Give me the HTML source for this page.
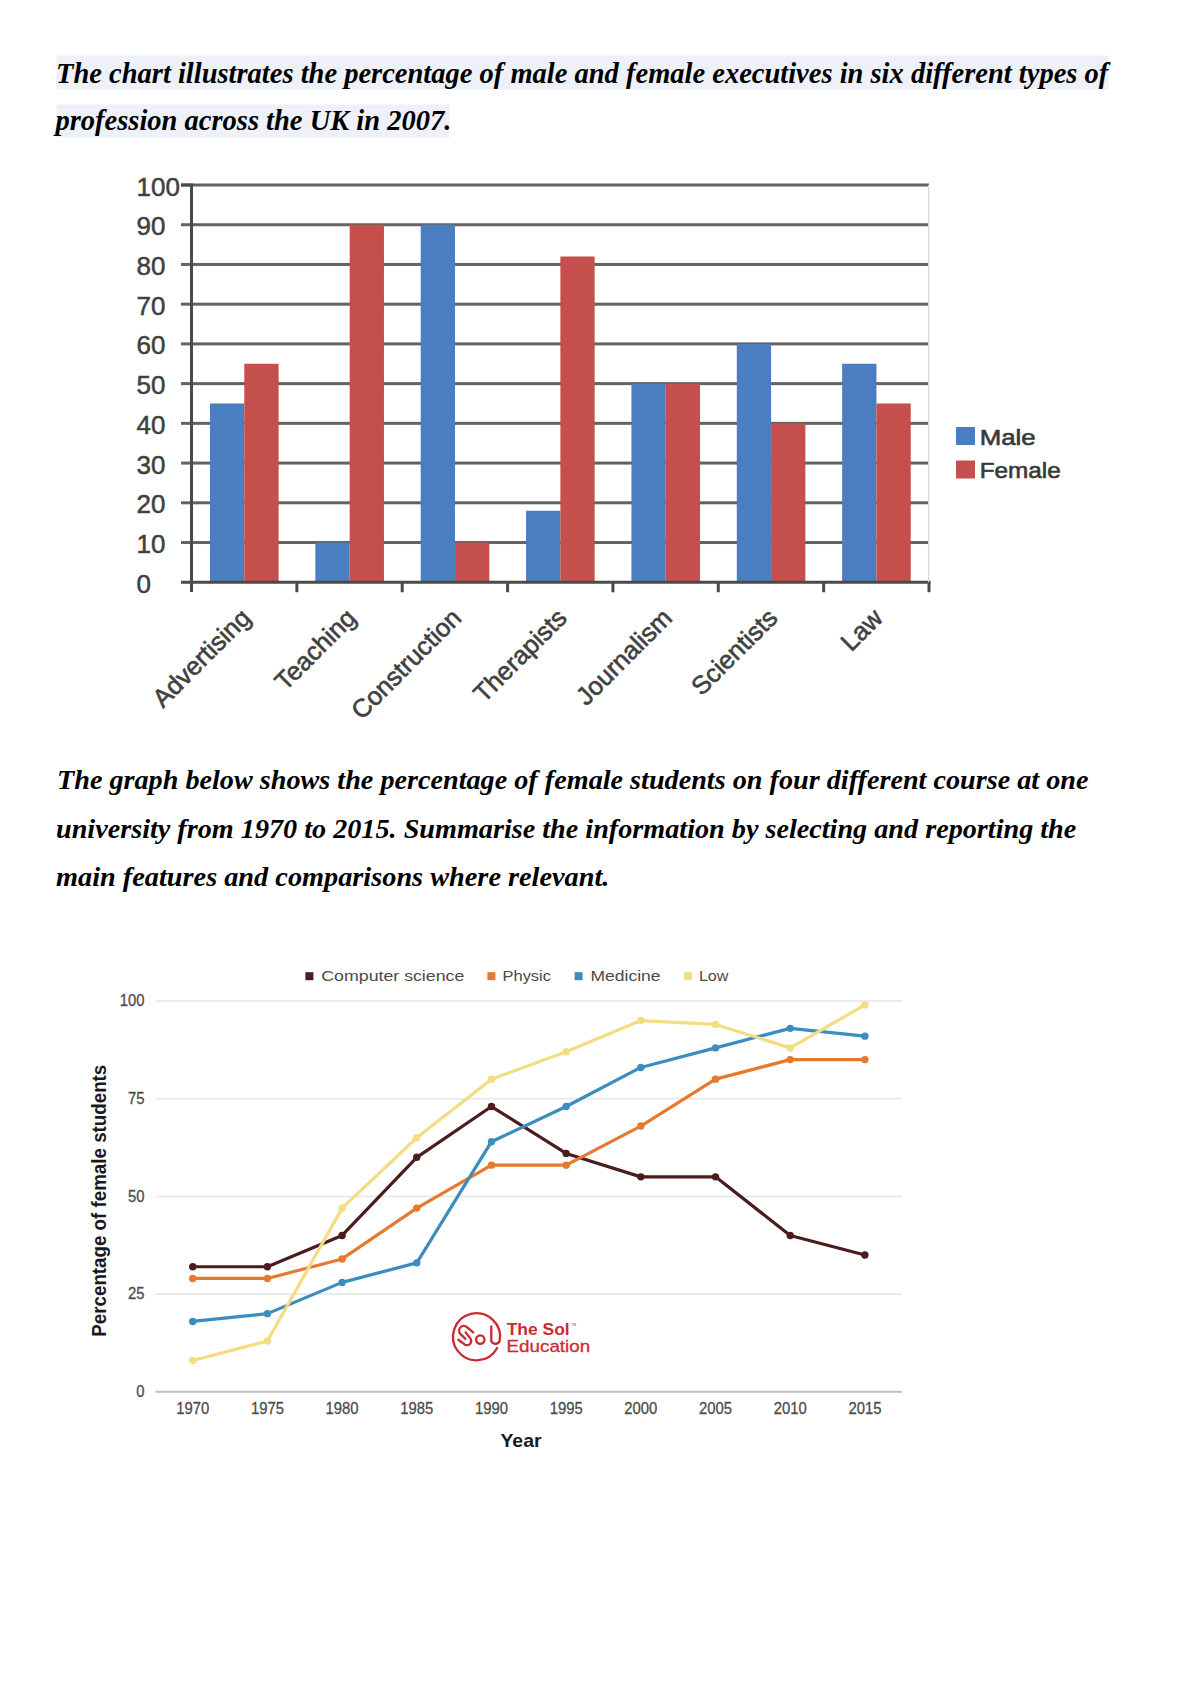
<!DOCTYPE html>
<html><head><meta charset="utf-8"><style>
html,body{margin:0;padding:0;background:#fff;}
body{width:1200px;height:1696px;overflow:hidden;position:relative;font-family:"Liberation Sans", sans-serif;}
svg{position:absolute;left:0;top:0;}
</style></head><body>
<svg width="1200" height="1696" viewBox="0 0 1200 1696">
<rect x="56.5" y="55.5" width="1052" height="34" fill="#eef2f8"/>
<rect x="56.5" y="104.5" width="393" height="33" fill="#eef2f8"/>
<text x="56" y="82.5" font-family='"Liberation Serif"' font-style="italic" font-weight="bold" font-size="28.5" fill="#000">The chart illustrates the percentage of male and female executives in six different types of</text>
<text x="55.5" y="130.3" font-family='"Liberation Serif"' font-style="italic" font-weight="bold" font-size="28.5" fill="#000">profession across the UK in 2007.</text>
<text x="57" y="789" font-family='"Liberation Serif"' font-style="italic" font-weight="bold" font-size="28.2" fill="#000">The graph below shows the percentage of female students on four different course at one</text>
<text x="56" y="838" font-family='"Liberation Serif"' font-style="italic" font-weight="bold" font-size="28.2" fill="#000">university from 1970 to 2015. Summarise the information by selecting and reporting the</text>
<text x="56" y="886" font-family='"Liberation Serif"' font-style="italic" font-weight="bold" font-size="28.3" fill="#000">main features and comparisons where relevant.</text>
<rect x="181" y="541.02" width="748" height="3" fill="#636363"/>
<rect x="181" y="501.30" width="748" height="3" fill="#636363"/>
<rect x="181" y="461.57" width="748" height="3" fill="#636363"/>
<rect x="181" y="421.85" width="748" height="3" fill="#636363"/>
<rect x="181" y="382.12" width="748" height="3" fill="#636363"/>
<rect x="181" y="342.40" width="748" height="3" fill="#636363"/>
<rect x="181" y="302.68" width="748" height="3" fill="#636363"/>
<rect x="181" y="262.95" width="748" height="3" fill="#636363"/>
<rect x="181" y="223.23" width="748" height="3" fill="#636363"/>
<rect x="181" y="183.50" width="748" height="3" fill="#636363"/>
<rect x="210.00" y="403.49" width="34.3" height="178.76" fill="#4a7ec0"/>
<rect x="244.30" y="363.76" width="34.3" height="218.49" fill="#c54f4c"/>
<rect x="315.36" y="542.52" width="34.3" height="39.73" fill="#4a7ec0"/>
<rect x="349.66" y="224.73" width="34.3" height="357.52" fill="#c54f4c"/>
<rect x="420.71" y="224.73" width="34.3" height="357.52" fill="#4a7ec0"/>
<rect x="455.01" y="542.52" width="34.3" height="39.73" fill="#c54f4c"/>
<rect x="526.07" y="510.75" width="34.3" height="71.50" fill="#4a7ec0"/>
<rect x="560.37" y="256.50" width="34.3" height="325.75" fill="#c54f4c"/>
<rect x="631.43" y="383.62" width="34.3" height="198.62" fill="#4a7ec0"/>
<rect x="665.73" y="383.62" width="34.3" height="198.62" fill="#c54f4c"/>
<rect x="736.79" y="343.90" width="34.3" height="238.35" fill="#4a7ec0"/>
<rect x="771.09" y="423.35" width="34.3" height="158.90" fill="#c54f4c"/>
<rect x="842.14" y="363.76" width="34.3" height="218.49" fill="#4a7ec0"/>
<rect x="876.44" y="403.49" width="34.3" height="178.76" fill="#c54f4c"/>
<rect x="181" y="580.75" width="749.5" height="3" fill="#4a4a4a"/>
<rect x="190" y="183.50" width="3" height="408.50" fill="#4a4a4a"/>
<rect x="181" y="183.50" width="10" height="3" fill="#4a4a4a"/>
<rect x="295.36" y="582.25" width="3" height="10" fill="#4a4a4a"/>
<rect x="400.71" y="582.25" width="3" height="10" fill="#4a4a4a"/>
<rect x="506.07" y="582.25" width="3" height="10" fill="#4a4a4a"/>
<rect x="611.43" y="582.25" width="3" height="10" fill="#4a4a4a"/>
<rect x="716.79" y="582.25" width="3" height="10" fill="#4a4a4a"/>
<rect x="822.14" y="582.25" width="3" height="10" fill="#4a4a4a"/>
<rect x="927.50" y="582.25" width="3" height="10" fill="#4a4a4a"/>
<rect x="928" y="185.00" width="1.2" height="397.25" fill="#d8d8d8"/>
<text x="136.5" y="592.75" font-family='"Liberation Sans"' font-size="26" fill="#404040" stroke="#404040" stroke-width="0.5">0</text>
<text x="136.5" y="553.02" font-family='"Liberation Sans"' font-size="26" fill="#404040" stroke="#404040" stroke-width="0.5">10</text>
<text x="136.5" y="513.30" font-family='"Liberation Sans"' font-size="26" fill="#404040" stroke="#404040" stroke-width="0.5">20</text>
<text x="136.5" y="473.57" font-family='"Liberation Sans"' font-size="26" fill="#404040" stroke="#404040" stroke-width="0.5">30</text>
<text x="136.5" y="433.85" font-family='"Liberation Sans"' font-size="26" fill="#404040" stroke="#404040" stroke-width="0.5">40</text>
<text x="136.5" y="394.12" font-family='"Liberation Sans"' font-size="26" fill="#404040" stroke="#404040" stroke-width="0.5">50</text>
<text x="136.5" y="354.40" font-family='"Liberation Sans"' font-size="26" fill="#404040" stroke="#404040" stroke-width="0.5">60</text>
<text x="136.5" y="314.68" font-family='"Liberation Sans"' font-size="26" fill="#404040" stroke="#404040" stroke-width="0.5">70</text>
<text x="136.5" y="274.95" font-family='"Liberation Sans"' font-size="26" fill="#404040" stroke="#404040" stroke-width="0.5">80</text>
<text x="136.5" y="235.23" font-family='"Liberation Sans"' font-size="26" fill="#404040" stroke="#404040" stroke-width="0.5">90</text>
<text x="136.5" y="195.50" font-family='"Liberation Sans"' font-size="26" fill="#404040" stroke="#404040" stroke-width="0.5">100</text>
<text transform="translate(252.18,619.5) rotate(-45)" text-anchor="end" font-family='"Liberation Sans"' font-size="25.5" fill="#404040" stroke="#404040" stroke-width="0.6">Advertising</text>
<text transform="translate(357.54,619.5) rotate(-45)" text-anchor="end" font-family='"Liberation Sans"' font-size="25.5" fill="#404040" stroke="#404040" stroke-width="0.6">Teaching</text>
<text transform="translate(462.89,619.5) rotate(-45)" text-anchor="end" font-family='"Liberation Sans"' font-size="25.5" fill="#404040" stroke="#404040" stroke-width="0.6">Construction</text>
<text transform="translate(568.25,619.5) rotate(-45)" text-anchor="end" font-family='"Liberation Sans"' font-size="25.5" fill="#404040" stroke="#404040" stroke-width="0.6">Therapists</text>
<text transform="translate(673.61,619.5) rotate(-45)" text-anchor="end" font-family='"Liberation Sans"' font-size="25.5" fill="#404040" stroke="#404040" stroke-width="0.6">Journalism</text>
<text transform="translate(778.96,619.5) rotate(-45)" text-anchor="end" font-family='"Liberation Sans"' font-size="25.5" fill="#404040" stroke="#404040" stroke-width="0.6">Scientists</text>
<text transform="translate(884.32,619.5) rotate(-45)" text-anchor="end" font-family='"Liberation Sans"' font-size="25.5" fill="#404040" stroke="#404040" stroke-width="0.6">Law</text>
<rect x="956" y="427" width="19" height="18" fill="#4a7ec0"/>
<rect x="956" y="460.5" width="19" height="18" fill="#c54f4c"/>
<text x="979.7" y="445" textLength="56" lengthAdjust="spacingAndGlyphs" font-family='"Liberation Sans"' font-size="22.5" fill="#383838" stroke="#383838" stroke-width="0.6">Male</text>
<text x="979.7" y="478.3" textLength="81" lengthAdjust="spacingAndGlyphs" font-family='"Liberation Sans"' font-size="22.5" fill="#383838" stroke="#383838" stroke-width="0.6">Female</text>
<rect x="155.5" y="1293.20" width="746.5" height="1.8" fill="#e9e9e9"/>
<rect x="155.5" y="1195.50" width="746.5" height="1.8" fill="#e9e9e9"/>
<rect x="155.5" y="1097.80" width="746.5" height="1.8" fill="#e9e9e9"/>
<rect x="155.5" y="1000.10" width="746.5" height="1.8" fill="#e9e9e9"/>
<rect x="155.5" y="1390.80" width="746.5" height="2" fill="#bdbdbd"/>
<text x="144.5" y="1397.10" text-anchor="end" textLength="8.25" lengthAdjust="spacingAndGlyphs" font-family='"Liberation Sans"' font-size="17" fill="#4c4c4c" stroke="#4c4c4c" stroke-width="0.3">0</text>
<text x="144.5" y="1299.40" text-anchor="end" textLength="16.5" lengthAdjust="spacingAndGlyphs" font-family='"Liberation Sans"' font-size="17" fill="#4c4c4c" stroke="#4c4c4c" stroke-width="0.3">25</text>
<text x="144.5" y="1201.70" text-anchor="end" textLength="16.5" lengthAdjust="spacingAndGlyphs" font-family='"Liberation Sans"' font-size="17" fill="#4c4c4c" stroke="#4c4c4c" stroke-width="0.3">50</text>
<text x="144.5" y="1104.00" text-anchor="end" textLength="16.5" lengthAdjust="spacingAndGlyphs" font-family='"Liberation Sans"' font-size="17" fill="#4c4c4c" stroke="#4c4c4c" stroke-width="0.3">75</text>
<text x="144.5" y="1006.30" text-anchor="end" textLength="24.75" lengthAdjust="spacingAndGlyphs" font-family='"Liberation Sans"' font-size="17" fill="#4c4c4c" stroke="#4c4c4c" stroke-width="0.3">100</text>
<text x="176.25" y="1414" textLength="33" lengthAdjust="spacingAndGlyphs" font-family='"Liberation Sans"' font-size="17" fill="#4c4c4c" stroke="#4c4c4c" stroke-width="0.3">1970</text>
<text x="250.93" y="1414" textLength="33" lengthAdjust="spacingAndGlyphs" font-family='"Liberation Sans"' font-size="17" fill="#4c4c4c" stroke="#4c4c4c" stroke-width="0.3">1975</text>
<text x="325.62" y="1414" textLength="33" lengthAdjust="spacingAndGlyphs" font-family='"Liberation Sans"' font-size="17" fill="#4c4c4c" stroke="#4c4c4c" stroke-width="0.3">1980</text>
<text x="400.30" y="1414" textLength="33" lengthAdjust="spacingAndGlyphs" font-family='"Liberation Sans"' font-size="17" fill="#4c4c4c" stroke="#4c4c4c" stroke-width="0.3">1985</text>
<text x="474.98" y="1414" textLength="33" lengthAdjust="spacingAndGlyphs" font-family='"Liberation Sans"' font-size="17" fill="#4c4c4c" stroke="#4c4c4c" stroke-width="0.3">1990</text>
<text x="549.67" y="1414" textLength="33" lengthAdjust="spacingAndGlyphs" font-family='"Liberation Sans"' font-size="17" fill="#4c4c4c" stroke="#4c4c4c" stroke-width="0.3">1995</text>
<text x="624.35" y="1414" textLength="33" lengthAdjust="spacingAndGlyphs" font-family='"Liberation Sans"' font-size="17" fill="#4c4c4c" stroke="#4c4c4c" stroke-width="0.3">2000</text>
<text x="699.03" y="1414" textLength="33" lengthAdjust="spacingAndGlyphs" font-family='"Liberation Sans"' font-size="17" fill="#4c4c4c" stroke="#4c4c4c" stroke-width="0.3">2005</text>
<text x="773.72" y="1414" textLength="33" lengthAdjust="spacingAndGlyphs" font-family='"Liberation Sans"' font-size="17" fill="#4c4c4c" stroke="#4c4c4c" stroke-width="0.3">2010</text>
<text x="848.40" y="1414" textLength="33" lengthAdjust="spacingAndGlyphs" font-family='"Liberation Sans"' font-size="17" fill="#4c4c4c" stroke="#4c4c4c" stroke-width="0.3">2015</text>
<polyline points="192.75,1266.74 267.43,1266.74 342.12,1235.48 416.80,1157.32 491.48,1106.52 566.17,1153.41 640.85,1176.86 715.53,1176.86 790.22,1235.48 864.90,1255.02" fill="none" stroke="#4a1c1d" stroke-width="3.2" stroke-linejoin="round"/>
<circle cx="192.75" cy="1266.74" r="3.7" fill="#4a1c1d"/>
<circle cx="267.43" cy="1266.74" r="3.7" fill="#4a1c1d"/>
<circle cx="342.12" cy="1235.48" r="3.7" fill="#4a1c1d"/>
<circle cx="416.80" cy="1157.32" r="3.7" fill="#4a1c1d"/>
<circle cx="491.48" cy="1106.52" r="3.7" fill="#4a1c1d"/>
<circle cx="566.17" cy="1153.41" r="3.7" fill="#4a1c1d"/>
<circle cx="640.85" cy="1176.86" r="3.7" fill="#4a1c1d"/>
<circle cx="715.53" cy="1176.86" r="3.7" fill="#4a1c1d"/>
<circle cx="790.22" cy="1235.48" r="3.7" fill="#4a1c1d"/>
<circle cx="864.90" cy="1255.02" r="3.7" fill="#4a1c1d"/>
<polyline points="192.75,1278.47 267.43,1278.47 342.12,1258.93 416.80,1208.12 491.48,1165.14 566.17,1165.14 640.85,1126.06 715.53,1079.16 790.22,1059.62 864.90,1059.62" fill="none" stroke="#e67930" stroke-width="3.2" stroke-linejoin="round"/>
<circle cx="192.75" cy="1278.47" r="3.7" fill="#e67930"/>
<circle cx="267.43" cy="1278.47" r="3.7" fill="#e67930"/>
<circle cx="342.12" cy="1258.93" r="3.7" fill="#e67930"/>
<circle cx="416.80" cy="1208.12" r="3.7" fill="#e67930"/>
<circle cx="491.48" cy="1165.14" r="3.7" fill="#e67930"/>
<circle cx="566.17" cy="1165.14" r="3.7" fill="#e67930"/>
<circle cx="640.85" cy="1126.06" r="3.7" fill="#e67930"/>
<circle cx="715.53" cy="1079.16" r="3.7" fill="#e67930"/>
<circle cx="790.22" cy="1059.62" r="3.7" fill="#e67930"/>
<circle cx="864.90" cy="1059.62" r="3.7" fill="#e67930"/>
<polyline points="192.75,1321.46 267.43,1313.64 342.12,1282.38 416.80,1262.84 491.48,1141.69 566.17,1106.52 640.85,1067.44 715.53,1047.90 790.22,1028.36 864.90,1036.17" fill="none" stroke="#3a8dbd" stroke-width="3.2" stroke-linejoin="round"/>
<circle cx="192.75" cy="1321.46" r="3.7" fill="#3a8dbd"/>
<circle cx="267.43" cy="1313.64" r="3.7" fill="#3a8dbd"/>
<circle cx="342.12" cy="1282.38" r="3.7" fill="#3a8dbd"/>
<circle cx="416.80" cy="1262.84" r="3.7" fill="#3a8dbd"/>
<circle cx="491.48" cy="1141.69" r="3.7" fill="#3a8dbd"/>
<circle cx="566.17" cy="1106.52" r="3.7" fill="#3a8dbd"/>
<circle cx="640.85" cy="1067.44" r="3.7" fill="#3a8dbd"/>
<circle cx="715.53" cy="1047.90" r="3.7" fill="#3a8dbd"/>
<circle cx="790.22" cy="1028.36" r="3.7" fill="#3a8dbd"/>
<circle cx="864.90" cy="1036.17" r="3.7" fill="#3a8dbd"/>
<polyline points="192.75,1360.54 267.43,1341.00 342.12,1208.12 416.80,1137.78 491.48,1079.16 566.17,1051.80 640.85,1020.54 715.53,1024.45 790.22,1047.90 864.90,1004.91" fill="none" stroke="#f4dc80" stroke-width="3.2" stroke-linejoin="round"/>
<circle cx="192.75" cy="1360.54" r="3.7" fill="#f4dc80"/>
<circle cx="267.43" cy="1341.00" r="3.7" fill="#f4dc80"/>
<circle cx="342.12" cy="1208.12" r="3.7" fill="#f4dc80"/>
<circle cx="416.80" cy="1137.78" r="3.7" fill="#f4dc80"/>
<circle cx="491.48" cy="1079.16" r="3.7" fill="#f4dc80"/>
<circle cx="566.17" cy="1051.80" r="3.7" fill="#f4dc80"/>
<circle cx="640.85" cy="1020.54" r="3.7" fill="#f4dc80"/>
<circle cx="715.53" cy="1024.45" r="3.7" fill="#f4dc80"/>
<circle cx="790.22" cy="1047.90" r="3.7" fill="#f4dc80"/>
<circle cx="864.90" cy="1004.91" r="3.7" fill="#f4dc80"/>
<rect x="305.4" y="972.2" width="8" height="8" fill="#4a1c1d"/>
<text x="321.3" y="980.5" textLength="143" lengthAdjust="spacingAndGlyphs" font-family='"Liberation Sans"' font-size="14.5" fill="#4a4a4a">Computer science</text>
<rect x="487.4" y="972.2" width="8" height="8" fill="#e67930"/>
<text x="502.5" y="980.5" textLength="48.5" lengthAdjust="spacingAndGlyphs" font-family='"Liberation Sans"' font-size="14.5" fill="#4a4a4a">Physic</text>
<rect x="574.6" y="972.2" width="8" height="8" fill="#3a8dbd"/>
<text x="590.5" y="980.5" textLength="70" lengthAdjust="spacingAndGlyphs" font-family='"Liberation Sans"' font-size="14.5" fill="#4a4a4a">Medicine</text>
<rect x="684.2" y="972.2" width="8" height="8" fill="#f4dc80"/>
<text x="698.9" y="980.5" textLength="29.5" lengthAdjust="spacingAndGlyphs" font-family='"Liberation Sans"' font-size="14.5" fill="#4a4a4a">Low</text>
<text transform="translate(105.6,1336.7) rotate(-90)" textLength="272" lengthAdjust="spacingAndGlyphs" font-family='"Liberation Sans"' font-weight="bold" font-size="20" fill="#1a1a1a">Percentage of female students</text>
<text x="500.5" y="1447" textLength="41" lengthAdjust="spacingAndGlyphs" font-family='"Liberation Sans"' font-weight="bold" font-size="19" fill="#1a1a1a">Year</text>
<g fill="none" stroke="#cc2a33" stroke-width="2.3" stroke-linecap="round">
<path d="M 491.3 1326.3 V 1341 A 4.5 4.5 0 0 0 499.62 1341 A 23.5 23.5 0 1 0 497.17 1347.98"/>
<circle cx="480.3" cy="1339.6" r="4.2"/>
<path d="M 473.2 1332.4 L 467.2 1327.4 A 4.3 4.3 0 0 0 460.4 1333.9 L 465.4 1338.9"/>
<path d="M 465.6 1332.4 L 469.97 1338.03 A 4.2 4.2 0 0 1 464.03 1343.97 L 458.3 1339.8"/>
</g>
<text x="506.7" y="1335" textLength="63" lengthAdjust="spacingAndGlyphs" font-family='"Liberation Sans"' font-weight="bold" font-size="17" fill="#cc2a33">The Sol</text>
<text x="571" y="1326" font-family='"Liberation Sans"' font-size="3.5" fill="#cc2a33">TM</text>
<text x="506.6" y="1351.7" textLength="83.5" lengthAdjust="spacingAndGlyphs" font-family='"Liberation Sans"' font-size="17" fill="#cc2a33" stroke="#cc2a33" stroke-width="0.3">Education</text>
</svg>
</body></html>
